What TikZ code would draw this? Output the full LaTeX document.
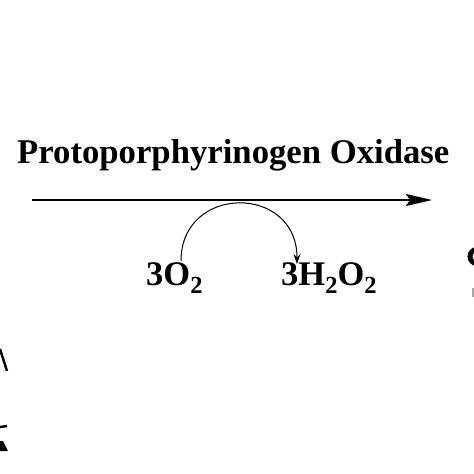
\documentclass[tikz,border=0pt]{standalone}
\usepackage{fontspec}
\setmainfont{Liberation Serif}
\usetikzlibrary{arrows.meta}
\newcommand{\chemsub}[1]{\raisebox{-0.25em}{\fontsize{24.5}{25}\selectfont #1}}
\begin{document}
\begin{tikzpicture}[
    x=1pt, y=-1pt,
    enzyme/.style={font=\fontsize{34.7}{37}\selectfont\bfseries, inner sep=0pt, anchor=base west},
    chem/.style={font=\fontsize{34.5}{36}\selectfont\bfseries, inner sep=0pt, anchor=base west},
    mainarrow/.style={line width=1.9pt, -{Stealth[length=26pt, width=12pt, inset=4pt]}},
    sidearrow/.style={line width=1pt, -{Stealth[length=10pt, width=7pt]}},
    fragment/.style={line width=2.4pt}
]
    \useasboundingbox (0,0) rectangle (474,474);
    % Enzyme label above the reaction arrow
    \node [enzyme] (pox) at (17,163) {Protoporphyrinogen Oxidase};
    % Reaction arrow
    \coordinate (start) at (32,200);
    \coordinate (end) at (432,200);
    \draw [mainarrow] (start) -- (end);
    % Co-substrates
    \node [chem] (oxygen) at (146,285) {3O\chemsub{2}};
    \node [chem] (peroxide) at (281,285) {3H\chemsub{2}O\chemsub{2}};
    % Curved arrow from O2 to H2O2
    \coordinate (o2top) at (181,261);
    \coordinate (h2o2top) at (297,264);
    \draw [sidearrow] (o2top) .. controls (181,184) and (297,184) .. (h2o2top);
    % Cut-off fragments at the edges
    \draw [line width=5pt] (477,249.5) arc[start angle=90, end angle=270, radius=7pt];
    \fill [gray!70] (472,288) rectangle (474,297);
    \draw [fragment] (0,349) -- (7,371);
    \draw [fragment] (0,427) -- (7,426);
    \fill (0,441) -- (3,441) -- (8,451) -- (0,451) -- cycle;
\end{tikzpicture}
\end{document}
